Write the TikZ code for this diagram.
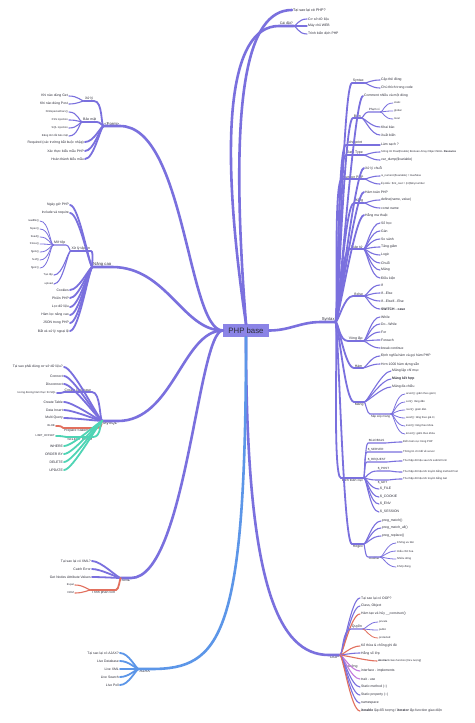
\documentclass[tikz,border=0pt]{standalone}
\usepackage{fontspec}
\setmainfont{Liberation Sans}
\usetikzlibrary{positioning}
\definecolor{lin}{HTML}{7A70DE}
\definecolor{rootfill}{HTML}{8B84E6}
\definecolor{redl}{HTML}{E2705E}
\definecolor{tealx}{HTML}{4FD4B4}
\definecolor{ajaxl}{HTML}{5C96E8}
\definecolor{violetl}{HTML}{C47CDD}
\definecolor{txt}{HTML}{2E2E3A}

\begin{document}
\begin{tikzpicture}[x=1pt, y=-1pt, line cap=round,
    every node/.style={text=txt},
    rootbox/.style={fill=rootfill, minimum width=46pt, minimum height=13pt, inner sep=0pt, font=\fontsize{7.8}{9}\selectfont},
    maintopic/.style={font=\fontsize{4.2}{5}\selectfont, inner sep=0.6pt},
    topic/.style={font=\fontsize{3.5}{4}\selectfont, inner sep=0.6pt},
    subtopic/.style={font=\fontsize{3}{3.5}\selectfont, inner sep=0.6pt},
    rleaf/.style={font=\fontsize{3.4}{4}\selectfont, inner sep=1pt, anchor=west},
    lleaf/.style={font=\fontsize{3.4}{4}\selectfont, inner sep=1pt, anchor=east},
    tinytext/.style={font=\fontsize{2.7}{3}\selectfont},
    trunk/.style={draw=lin, line width=2.6pt},
    twig/.style={draw=lin, line width=1.8pt},
    leafln/.style={draw=lin, line width=1.1pt},
    hair/.style={draw=lin, line width=0.8pt},
    rf/.style={out=0, in=180, out distance=3pt, in distance=9pt},
    lf/.style={out=180, in=0, out distance=3pt, in distance=9pt},
    rfs/.style={out=0, in=180, out distance=1pt, in distance=3pt},
    lfs/.style={out=180, in=0, out distance=1pt, in distance=3pt}]

\fill[white] (0,0) rectangle (474,723);
\useasboundingbox (0,0) rectangle (474,723);

% gốc
\node[rootbox] (root) at (246,330.5) {PHP base};

% phía trên
\node[rleaf, font=\fontsize{3.7}{4}\selectfont] (whyphp) at (292,10) {Tại sao lại có PHP?};
\node[topic, anchor=south west] (caidat) at (279,26) {Cài đặt?};
\node[rleaf] (csdl) at (307,19) {Cơ sở dữ liệu};
\node[rleaf] (webserver) at (307,26) {Máy chủ WEB};
\node[rleaf] (compiler) at (307,34) {Trình biên dịch PHP};

\draw[trunk] (root.north) .. controls +(-18,-230) and +(-45,0) .. (whyphp.west);
\draw[trunk] (root.north) .. controls +(-28,-190) and +(-50,0) .. (caidat.south west) -- (caidat.south east);
\draw[leafln] (caidat.south east) to[rf] (csdl.west);
\draw[leafln] (caidat.south east) to[rf] (webserver.west);
\draw[leafln] (caidat.south east) to[rf] (compiler.west);

% Syntax
\node[maintopic, anchor=south west] (syntax) at (321,322) {Syntax};
\node[topic, anchor=south west] (syn2) at (352,83) {Syntax};
\node[rleaf] (tag) at (380,80) {Cặp thẻ đóng};
\node[rleaf] (note) at (380,88) {Chú thích trong code};
\node[rleaf] (comment) at (363,96) {Comment nhiều và một dòng};
\node[topic, anchor=south west] (bien) at (353,118) {Biến};
\node[subtopic, anchor=south west] (phamvi) at (368,112) {Phạm vi};
\node[rleaf, tinytext] (static) at (393,103) {static};
\node[rleaf, tinytext] (global) at (393,111) {global};
\node[rleaf, tinytext] (local) at (393,119) {local};
\node[rleaf] (khaibao) at (380,127) {Khai báo};
\node[rleaf] (xuatbien) at (380,135) {Xuất biến};
\node[topic, anchor=south west] (echo) at (346,145) {echo print};
\node[rleaf] (lamsach) at (380,145) {Làm sạch ?};
\node[topic, anchor=south west] (dtype) at (346,155) {Data Type};
\node[rleaf, tinytext] (types) at (380,152) {String Int Float(Double) Boolean Array Object NULL \textbf{Resource}};
\node[rleaf] (vardump) at (380,160) {var\_dump(\$variable)};
\node[rleaf] (chuoi) at (364,168) {Xử lý chuỗi};
\node[topic, anchor=south west] (number) at (342,179) {Number PHP};
\node[rleaf, tinytext] (isnum) at (380,176) {is\_numeric(\$variable) = true/false};
\node[rleaf, tinytext] (cast) at (380,184) {Ép kiểu: \$int\_cast = (int)\$mynumber};
\node[rleaf] (math) at (364,192) {Hàm toán PHP};
\node[topic, anchor=south west] (hang) at (354,203) {Hằng};
\node[rleaf] (define) at (380,200) {define(name, value)};
\node[rleaf] (constname) at (380,208) {const name};
\node[rleaf] (magic) at (364,215) {Hằng ma thuật};
\node[topic, anchor=south west] (toantu) at (350,249) {Toán tử};
\node[rleaf] (op1) at (380,223) {Số học};
\node[rleaf] (op2) at (380,231) {Gán};
\node[rleaf] (op3) at (380,239) {So sánh};
\node[rleaf] (op4) at (380,247) {Tăng giảm};
\node[rleaf] (op5) at (380,255) {Logic};
\node[rleaf] (op6) at (380,263) {Chuỗi};
\node[rleaf] (op7) at (380,270) {Mảng};
\node[rleaf] (op8) at (380,278) {Điều kiện};
\node[topic, anchor=south west] (ifelse) at (353,296) {If else};
\node[rleaf] (if1) at (380,285) {If};
\node[rleaf] (if2) at (380,293) {If...Else};
\node[rleaf] (if3) at (380,301) {If...ElseIf...Else};
\node[rleaf] (if4) at (380,309) {\textbf{SWITCH - case}};
\node[topic, anchor=south west] (vonglap) at (348,341) {Vòng lặp};
\node[rleaf] (lp1) at (380,317) {While};
\node[rleaf] (lp2) at (380,324) {Do...While};
\node[rleaf] (lp3) at (380,332) {For};
\node[rleaf] (lp4) at (380,340) {Foreach};
\node[rleaf] (lp5) at (380,348) {break continue};
\node[topic, anchor=south west] (ham) at (354,368) {Hàm};
\node[rleaf] (ham1) at (380,356) {Định nghĩa hàm và gọi hàm PHP};
\node[rleaf] (ham2) at (380,364) {Hơn 1000 hàm dựng sẵn};
\node[topic, anchor=north west] (mang) at (354,402) {Mảng};
\node[rleaf] (mg1) at (391,371) {Mảng lập chỉ mục};
\node[rleaf] (mg2) at (391,379) {\textbf{Mảng kết hợp}};
\node[rleaf] (mg3) at (391,387) {Mảng đa chiều};
\node[subtopic, anchor=north west] (sapxep) at (370,414) {Sắp xếp mảng};
\node[rleaf, tinytext] (so1) at (405,394) {arsort(): giảm theo giá trị};
\node[rleaf, tinytext] (so2) at (405,402) {sort(): tăng dần};
\node[rleaf, tinytext] (so3) at (405,410) {rsort(): giảm dần};
\node[rleaf, tinytext] (so4) at (405,418) {asort(): tăng theo giá trị};
\node[rleaf, tinytext] (so5) at (405,426) {ksort(): tăng theo khóa};
\node[rleaf, tinytext] (so6) at (405,434) {krsort(): giảm theo khóa};
\node[topic, anchor=north west] (bientc) at (341,478) {Biến toàn cục};
\node[subtopic, anchor=south west] (glb) at (368,443) {\$GLOBALS};
\node[rleaf, tinytext] (glb1) at (402,442) {Biến toàn cục trong PHP};
\node[subtopic, anchor=south west] (srv) at (367,452) {\$\_SERVER};
\node[rleaf, tinytext] (srv1) at (402,452) {Thông tin chi tiết về server};
\node[subtopic, anchor=south west] (req) at (367,462) {\$\_REQUEST};
\node[rleaf, tinytext] (req1) at (402,461) {Thu thập dữ liệu sau khi submit form};
\node[subtopic, anchor=south west] (pst) at (377,471) {\$\_POST};
\node[rleaf, tinytext] (pst1) at (402,472) {Thu thập dữ liệu khi truyền bằng method Post};
\node[subtopic, anchor=north west] (gt) at (377,480) {\$\_GET};
\node[rleaf, tinytext] (gt1) at (402,479) {Thu thập dữ liệu khi truyền bằng Get};
\node[rleaf] (files) at (379,489) {\$\_FILE};
\node[rleaf] (cookie) at (379,497) {\$\_COOKIE};
\node[rleaf] (env) at (379,504) {\$\_ENV};
\node[rleaf] (session) at (379,512) {\$\_SESSION};
\node[topic, anchor=north west] (regex) at (352,544) {Regex};
\node[rleaf] (pm1) at (381,521) {preg\_match()};
\node[rleaf] (pm2) at (381,528) {preg\_match\_all()};
\node[rleaf] (pm3) at (381,536) {preg\_replace()};
\node[subtopic, anchor=north west] (modifier) at (368,557) {modifier};
\node[rleaf, tinytext] (md1) at (396,543) {Không ưu tiên};
\node[rleaf, tinytext] (md2) at (396,551) {Hiểu chữ hoa};
\node[rleaf, tinytext] (md3) at (396,559) {Nhiều dòng};
\node[rleaf, tinytext] (md4) at (396,567) {Khớp đúng};

\draw[trunk] (root.east) to[out=0, in=180] (syntax.south west) -- (syntax.south east);
\draw[twig] (syntax.south east) to[rf] (syn2.south west) -- (syn2.south east);
\draw[leafln] (syn2.south east) to[rf] (tag.west);
\draw[leafln] (syn2.south east) to[rf] (note.west);
\draw[twig] (syntax.south east) to[rf] (comment.west);
\draw[twig] (syntax.south east) to[rf] (bien.south west) -- (bien.south east);
\draw[leafln] (bien.south east) to[rfs] (phamvi.south west) -- (phamvi.south east);
\draw[hair] (phamvi.south east) to[rf] (static.west);
\draw[hair] (phamvi.south east) to[rf] (global.west);
\draw[hair] (phamvi.south east) to[rf] (local.west);
\draw[leafln] (bien.south east) to[rf] (khaibao.west);
\draw[leafln] (bien.south east) to[rf] (xuatbien.west);
\draw[twig] (syntax.south east) to[rf] (echo.south west) -- (echo.south east);
\draw[leafln] (echo.south east) to[rf] (lamsach.west);
\draw[twig] (syntax.south east) to[rf] (dtype.south west) -- (dtype.south east);
\draw[leafln] (dtype.south east) to[rf] (types.west);
\draw[leafln] (dtype.south east) to[rf] (vardump.west);
\draw[twig] (syntax.south east) to[rf] (chuoi.west);
\draw[twig] (syntax.south east) to[rf] (number.south west) -- (number.south east);
\draw[leafln] (number.south east) to[rf] (isnum.west);
\draw[leafln] (number.south east) to[rf] (cast.west);
\draw[twig] (syntax.south east) to[rf] (math.west);
\draw[twig] (syntax.south east) to[rf] (hang.south west) -- (hang.south east);
\draw[leafln] (hang.south east) to[rf] (define.west);
\draw[leafln] (hang.south east) to[rf] (constname.west);
\draw[twig] (syntax.south east) to[rf] (magic.west);
\draw[twig] (syntax.south east) to[rf] (toantu.south west) -- (toantu.south east);
\draw[leafln] (toantu.south east) to[rf] (op1.west);
\draw[leafln] (toantu.south east) to[rf] (op2.west);
\draw[leafln] (toantu.south east) to[rf] (op3.west);
\draw[leafln] (toantu.south east) to[rf] (op4.west);
\draw[leafln] (toantu.south east) to[rf] (op5.west);
\draw[leafln] (toantu.south east) to[rf] (op6.west);
\draw[leafln] (toantu.south east) to[rf] (op7.west);
\draw[leafln] (toantu.south east) to[rf] (op8.west);
\draw[twig] (syntax.south east) to[rf] (ifelse.south west) -- (ifelse.south east);
\draw[leafln] (ifelse.south east) to[rf] (if1.west);
\draw[leafln] (ifelse.south east) to[rf] (if2.west);
\draw[leafln] (ifelse.south east) to[rf] (if3.west);
\draw[leafln] (ifelse.south east) to[rf] (if4.west);
\draw[twig] (syntax.south east) to[rf] (vonglap.south west) -- (vonglap.south east);
\draw[leafln] (vonglap.south east) to[rf] (lp1.west);
\draw[leafln] (vonglap.south east) to[rf] (lp2.west);
\draw[leafln] (vonglap.south east) to[rf] (lp3.west);
\draw[leafln] (vonglap.south east) to[rf] (lp4.west);
\draw[leafln] (vonglap.south east) to[rf] (lp5.west);
\draw[twig] (syntax.south east) to[rf] (ham.south west) -- (ham.south east);
\draw[leafln] (ham.south east) to[rf] (ham1.west);
\draw[leafln] (ham.south east) to[rf] (ham2.west);
\draw[twig] (syntax.south east) to[rf] (mang.north west) -- (mang.north east);
\draw[leafln] (mang.north east) to[rf] (mg1.west);
\draw[leafln] (mang.north east) to[rf] (mg2.west);
\draw[leafln] (mang.north east) to[rf] (mg3.west);
\draw[leafln] (mang.north east) to[rfs] (sapxep.north west) -- (sapxep.north east);
\draw[hair] (sapxep.north east) to[rf] (so1.west);
\draw[hair] (sapxep.north east) to[rf] (so2.west);
\draw[hair] (sapxep.north east) to[rf] (so3.west);
\draw[hair] (sapxep.north east) to[rf] (so4.west);
\draw[hair] (sapxep.north east) to[rf] (so5.west);
\draw[hair] (sapxep.north east) to[rf] (so6.west);
\draw[twig] (syntax.south east) to[rf] (bientc.north west) -- (bientc.north east);
\draw[leafln] (bientc.north east) to[rfs] (glb.south west) -- (glb.south east) to[rf] (glb1.west);
\draw[leafln] (bientc.north east) to[rfs] (srv.south west) -- (srv.south east) to[rf] (srv1.west);
\draw[leafln] (bientc.north east) to[rfs] (req.south west) -- (req.south east) to[rf] (req1.west);
\draw[leafln] (bientc.north east) to[rf] (pst.south west) -- (pst.south east) to[rf] (pst1.west);
\draw[leafln] (bientc.north east) to[rf] (gt.north west) -- (gt.north east) to[rf] (gt1.west);
\draw[leafln] (bientc.north east) to[rf] (files.west);
\draw[leafln] (bientc.north east) to[rf] (cookie.west);
\draw[leafln] (bientc.north east) to[rf] (env.west);
\draw[leafln] (bientc.north east) to[rf] (session.west);
\draw[twig] (syntax.south east) to[rf] (regex.north west) -- (regex.north east);
\draw[leafln] (regex.north east) to[rf] (pm1.west);
\draw[leafln] (regex.north east) to[rf] (pm2.west);
\draw[leafln] (regex.north east) to[rf] (pm3.west);
\draw[leafln] (regex.north east) to[rfs] (modifier.north west) -- (modifier.north east);
\draw[hair] (modifier.north east) to[rf] (md1.west);
\draw[hair] (modifier.north east) to[rf] (md2.west);
\draw[hair] (modifier.north east) to[rf] (md3.west);
\draw[hair] (modifier.north east) to[rf] (md4.west);

% OOP
\node[maintopic, anchor=north west] (oop) at (329,655) {OOP};
\node[rleaf] (whyoop) at (360,598) {Tại sao lại có OOP?};
\node[rleaf] (classobj) at (360,606) {Class, Object};
\node[rleaf] (construct) at (360,614) {Hàm tạo và hủy \_\_construct()};
\node[topic, anchor=south west] (quyen) at (351,629) {Quyền};
\node[rleaf, tinytext] (private) at (378,622) {private};
\node[rleaf, tinytext] (public) at (378,630) {public};
\node[rleaf, tinytext] (protected) at (378,638) {protected};
\node[rleaf] (kethua) at (360,646) {Kế thừa \& chồng ghi đè};
\node[rleaf] (hangso) at (360,653) {Hằng số lớp};
\node[rleaf, tinytext] (abstract) at (377,661) {\textbf{abstract} class function [trừu tượng]};
\node[topic] (tutuong) at (350,667) {Tư tưởng};
\node[rleaf] (interface) at (360,671) {interface - implements};
\node[rleaf] (trait) at (360,679) {trait - use};
\node[rleaf] (smethod) at (360,687) {Static method (::)};
\node[rleaf] (sprop) at (360,695) {Static property (::)};
\node[rleaf] (namespace) at (360,703) {namespace};
\node[rleaf] (iterable) at (360,711) {\textbf{iterable} lặp đối tượng / \textbf{iterator} lặp function giao diện};

\draw[trunk] (root.south) .. controls +(0,250) and +(-50,0) .. (oop.north west) -- (oop.north east);
\draw[leafln] (oop.north east) to[rf] (whyoop.west);
\draw[leafln] (oop.north east) to[rf] (classobj.west);
\draw[leafln, draw=redl] (oop.north east) to[rf] (construct.west);
\draw[leafln] (oop.north east) to[rf] (quyen.south west) -- (quyen.south east);
\draw[hair] (quyen.south east) to[rf] (private.west);
\draw[hair] (quyen.south east) to[rf] (public.west);
\draw[hair, draw=redl] (quyen.south east) to[rf] (protected.west);
\draw[leafln, draw=redl] (oop.north east) to[rf] (kethua.west);
\draw[leafln] (oop.north east) to[rf] (hangso.west);
\draw[leafln, draw=redl] (oop.north east) to[rf] (abstract.west);
\draw[leafln, draw=violetl] (oop.north east) to[rf] (interface.west);
\draw[leafln, draw=violetl] (oop.north east) to[rf] (trait.west);
\draw[leafln] (oop.north east) to[rf] (smethod.west);
\draw[leafln] (oop.north east) to[rf] (sprop.west);
\draw[leafln] (oop.north east) to[rf] (namespace.west);
\draw[leafln, draw=redl] (oop.north east) to[rf] (iterable.west);

% <Form>
\node[maintopic, anchor=south east] (form) at (120,126) {<Form>};
\node[topic, anchor=south east] (xuly) at (94,101) {Xử lý};
\node[lleaf] (whenget) at (69,96) {Khi nào dùng Get};
\node[lleaf] (whenpost) at (69,104) {Khi nào dùng Post};
\node[topic, anchor=south east] (baomat) at (97,122) {Bảo mật};
\node[lleaf, tinytext] (hsc) at (69,112) {htmlspecialchars()};
\node[lleaf, tinytext] (xss) at (69,120) {XSS injection};
\node[lleaf, tinytext] (sqli) at (69,128) {SQL injection};
\node[lleaf, tinytext] (bangbm) at (69,136) {Bảng tóm tắt bảo mật};
\node[lleaf] (required) at (85,142) {Required (các trường bắt buộc nhập)};
\node[lleaf] (validate) at (85,151) {Xác thực biểu mẫu PHP};
\node[lleaf] (complete) at (85,159) {Hoàn thành biểu mẫu};

\draw[trunk] (root.west) .. controls +(-35,0) and +(65,0) .. (form.south east) -- (form.south west);
\draw[twig] (form.south west) to[lf] (xuly.south east) -- (xuly.south west);
\draw[leafln] (xuly.south west) to[lf] (whenget.east);
\draw[leafln] (xuly.south west) to[lf] (whenpost.east);
\draw[twig] (form.south west) to[lfs] (baomat.south east) -- (baomat.south west);
\draw[leafln] (baomat.south west) to[lf] (hsc.east);
\draw[leafln] (baomat.south west) to[lf] (xss.east);
\draw[leafln] (baomat.south west) to[lf] (sqli.east);
\draw[leafln] (baomat.south west) to[lf] (bangbm.east);
\draw[twig] (form.south west) to[lf] (required.east);
\draw[twig] (form.south west) to[lf] (validate.east);
\draw[twig] (form.south west) to[lf] (complete.east);

% Nâng cao
\node[maintopic, anchor=south east] (nangcao) at (112,267) {Nâng cao};
\node[lleaf] (datetime) at (70,205) {Ngày giờ PHP};
\node[lleaf] (include) at (70,213) {Include và require};
\node[topic, anchor=south east] (xltt) at (91,251) {Xử lý tập tin};
\node[topic, anchor=south east] (motep) at (66,245) {Mở tệp};
\node[lleaf, tinytext] (fa) at (40,221) {readfile()};
\node[lleaf, tinytext] (fb) at (40,229) {fopen()};
\node[lleaf, tinytext] (fc) at (40,237) {fread()};
\node[lleaf, tinytext] (fd) at (40,244) {fclose()};
\node[lleaf, tinytext] (fe) at (40,252) {fgets()};
\node[lleaf, tinytext] (ff) at (40,260) {feof()};
\node[lleaf, tinytext] (fg) at (40,268) {fgetc()};
\node[lleaf, tinytext] (taotep) at (54,275) {Tạo tệp};
\node[lleaf, tinytext] (upload) at (54,284) {upload};
\node[lleaf] (cookies) at (70,290) {Cookies};
\node[lleaf] (phien) at (70,298) {Phiên PHP};
\node[lleaf] (filter) at (70,307) {Lọc dữ liệu};
\node[lleaf] (filteradv) at (70,315) {Hàm lọc nâng cao};
\node[lleaf] (json) at (70,323) {JSON trong PHP};
\node[lleaf] (exception) at (70,331) {Bắt và xử lý ngoại lệ};

\draw[trunk] (root.west) .. controls +(-40,0) and +(55,0) .. (nangcao.south east) -- (nangcao.south west);
\draw[twig] (nangcao.south west) to[lf] (datetime.east);
\draw[twig] (nangcao.south west) to[lf] (include.east);
\draw[twig] (nangcao.south west) to[lfs] (xltt.south east) -- (xltt.south west);
\draw[leafln] (xltt.south west) to[lfs] (motep.south east) -- (motep.south west);
\draw[hair] (motep.south west) to[lf] (fa.east);
\draw[hair] (motep.south west) to[lf] (fb.east);
\draw[hair] (motep.south west) to[lf] (fc.east);
\draw[hair] (motep.south west) to[lf] (fd.east);
\draw[hair] (motep.south west) to[lf] (fe.east);
\draw[hair] (motep.south west) to[lf] (ff.east);
\draw[hair] (motep.south west) to[lf] (fg.east);
\draw[leafln] (xltt.south west) to[lf] (taotep.east);
\draw[leafln] (xltt.south west) to[lf] (upload.east);
\draw[twig] (nangcao.south west) to[lf] (cookies.east);
\draw[twig] (nangcao.south west) to[lf] (phien.east);
\draw[twig] (nangcao.south west) to[lf] (filter.east);
\draw[twig] (nangcao.south west) to[lf] (filteradv.east);
\draw[twig] (nangcao.south west) to[lf] (json.east);
\draw[twig] (nangcao.south west) to[lf] (exception.east);

% MySQL
\node[maintopic, anchor=north east] (mysql) at (118,421) {MySQL};
\node[lleaf] (whydb) at (64,367) {Tại sao phải dùng cơ sở dữ liệu?};
\node[lleaf] (connect) at (64,376) {Connect};
\node[lleaf] (disconnect) at (64,384) {Disconnect};
\node[topic, anchor=south east] (createdb) at (92,392) {Create Database};
\node[lleaf, tinytext] (tuongduong) at (57,393) {tương đương hàm thực thi SQL};
\node[lleaf] (createtb) at (64,402) {Create Table};
\node[lleaf] (insert) at (64,410) {Data Insert};
\node[lleaf] (multi) at (64,418) {Multi Query};
\node[topic, anchor=north east] (prepare) at (96,428) {Prepare Statements};
\node[lleaf, tinytext] (blob) at (56,426) {BLOB};
\node[topic, anchor=north east] (selectfrom) at (93,437) {SELECT FROM};
\node[lleaf, tinytext] (limit) at (56,436) {LIMIT\_OFFSET};
\node[lleaf] (where) at (64,446) {WHERE};
\node[lleaf] (orderby) at (64,454) {ORDER BY};
\node[lleaf] (delete) at (64,462) {DELETE};
\node[lleaf] (update) at (64,470) {UPDATE};

\draw[trunk] (root.west) .. controls +(-40,0) and +(55,0) .. (mysql.north east) -- (mysql.north west);
\draw[twig] (mysql.north west) to[lf] (whydb.east);
\draw[twig] (mysql.north west) to[lf] (connect.east);
\draw[twig] (mysql.north west) to[lf] (disconnect.east);
\draw[twig] (mysql.north west) to[lf] (createdb.south east) -- (createdb.south west) to[lf] (tuongduong.east);
\draw[twig] (mysql.north west) to[lf] (createtb.east);
\draw[twig] (mysql.north west) to[lf] (insert.east);
\draw[twig] (mysql.north west) to[lf] (multi.east);
\draw[twig, draw=redl] (mysql.north west) to[lf] (prepare.north east) -- (prepare.north west) to[lf] (blob.east);
\draw[twig, draw=tealx] (mysql.north west) to[lf] (selectfrom.north east) -- (selectfrom.north west) to[lf] (limit.east);
\draw[twig, draw=tealx] (mysql.north west) to[lf] (where.east);
\draw[twig, draw=tealx] (mysql.north west) to[lf] (orderby.east);
\draw[twig, draw=tealx] (mysql.north west) to[lf] (delete.east);
\draw[twig, draw=tealx] (mysql.north west) to[lf] (update.east);

% XML
\node[maintopic, anchor=north east] (xml) at (131,578) {XML};
\node[lleaf] (whyxml) at (92,561) {Tại sao lại có XML?};
\node[lleaf] (catcherr) at (92,569) {Catch Error};
\node[lleaf] (getnodes) at (92,577) {Get Nodes Attribute Values};
\node[topic, anchor=north east] (parser) at (116,590) {Trình phân tích};
\node[lleaf, tinytext] (expat) at (75,585) {Expat};
\node[lleaf, tinytext] (dom) at (75,593) {DOM};

\draw[trunk] (root.west) .. controls +(-25,0) and +(55,0) .. (xml.north east) -- (xml.north west);
\draw[twig] (xml.north west) to[lf] (whyxml.east);
\draw[twig] (xml.north west) to[lf] (catcherr.east);
\draw[twig] (xml.north west) to[lf] (getnodes.east);
\draw[twig, draw=redl] (xml.north west) to[lfs] (parser.north east) -- (parser.north west);
\draw[leafln, draw=redl] (parser.north west) to[lf] (expat.east);
\draw[leafln, draw=redl] (parser.north west) to[lf] (dom.east);

% AJAX
\node[maintopic, anchor=north east] (ajax) at (151,669) {AJAX};
\node[lleaf] (whyajax) at (120,653) {Tại sao lại có AJAX?};
\node[lleaf] (livedb) at (120,661) {Live Database};
\node[lleaf] (livexml) at (120,669) {Live XML};
\node[lleaf] (livesearch) at (120,677) {Live Search};
\node[lleaf] (livepoll) at (120,685) {Live Poll};

\draw[trunk, draw=ajaxl] (root.south) .. controls +(0,300) and +(70,0) .. (ajax.north east) -- (ajax.north west);
\draw[twig, draw=ajaxl] (ajax.north west) to[lf] (whyajax.east);
\draw[twig, draw=ajaxl] (ajax.north west) to[lf] (livedb.east);
\draw[twig, draw=ajaxl] (ajax.north west) to[lf] (livexml.east);
\draw[twig, draw=ajaxl] (ajax.north west) to[lf] (livesearch.east);
\draw[twig, draw=ajaxl] (ajax.north west) to[lf] (livepoll.east);

\end{tikzpicture}
\end{document}
